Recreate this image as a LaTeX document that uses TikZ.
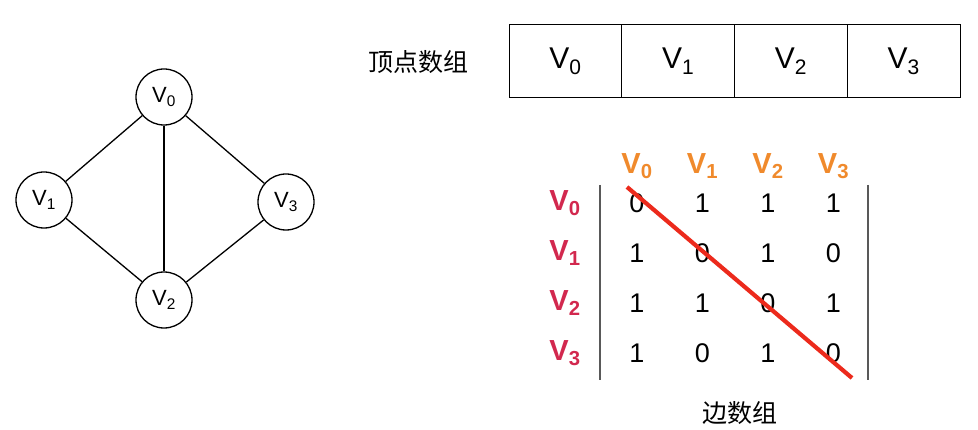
\documentclass[tikz,border=0pt]{standalone}
\usepackage{fontspec}
\setmainfont{Liberation Sans}
\newfontfamily\cjk{Noto Sans CJK SC}
\usetikzlibrary{positioning}
\definecolor{naranja}{HTML}{F08A2C}
\definecolor{carmesi}{HTML}{D2284E}
\definecolor{rojo}{HTML}{EC2A1C}
\newcommand{\vx}[1]{V\textsubscript{#1}}
\tikzset{
  vtx/.style={draw, circle, line width=1.3pt, minimum size=56pt, inner sep=0pt,
              font=\fontsize{22}{22}\selectfont},
  cell/.style={draw, line width=1pt, minimum width=112.75pt, minimum height=73pt,
               font=\fontsize{30}{30}\selectfont},
  colh/.style={text=naranja, font=\fontsize{29}{29}\selectfont\bfseries},
  rowh/.style={text=carmesi, font=\fontsize{29}{29}\selectfont\bfseries},
  ent/.style={font=\fontsize{27}{27}\selectfont},
  rotulo/.style={font=\cjk\fontsize{25}{25}\selectfont},
  link/.style={line width=1.3pt},
  barra/.style={line width=1.3pt, black!65},
  diag/.style={line width=4.2pt, rojo},
}
\begin{document}
\begin{tikzpicture}[x=1pt, y=-1pt]
  \useasboundingbox (0,0) rectangle (978,430);
  % graph
  \node[vtx] (V0) at (164,97) {\vx{0}};
  \node[vtx] (V1) at (44,200) {\vx{1}};
  \node[vtx] (V3) at (286,202) {\vx{3}};
  \node[vtx] (V2) at (164,300) {\vx{2}};
  \draw[link] (V0) -- (V1); \draw[link] (V0) -- (V2); \draw[link] (V0) -- (V3);
  \draw[link] (V1) -- (V2); \draw[link] (V3) -- (V2);
  % vertex array
  \node[rotulo] (vlab) at (418,62) {顶点数组};
  \foreach \i in {0,...,3}
    \node[cell] (a\i) at ({565.4+112.75*\i},61.5) {\vx{\i}};
  % edge array
  \foreach \i in {0,...,3} {
    \node[colh] (c\i) at ({637+65.5*\i},166) {\vx{\i}};
    \node[rowh] (r\i) at (565,{203+50*\i}) {\vx{\i}};
  }
  \foreach \row [count=\r from 0] in {{0,1,1,1},{1,0,1,0},{1,1,0,1},{1,0,1,0}}
    \foreach \v [count=\c from 0] in \row
      \node[ent] (m\r\c) at ({637+65.5*\c},{203+50*\r}) {\v};
  \coordinate (lt) at (600,185); \coordinate (lb) at (600,380);
  \coordinate (rt) at (868,185); \coordinate (rb) at (868,380);
  \draw[barra] (lt) -- (lb); \draw[barra] (rt) -- (rb);
  \coordinate (dA) at (627,187); \coordinate (dB) at (852,378);
  \draw[diag] (dA) -- (dB);
  \node[rotulo, font=\cjk\fontsize{25}{25}\selectfont] (elab) at (740,413) {边数组};
\end{tikzpicture}
\end{document}
